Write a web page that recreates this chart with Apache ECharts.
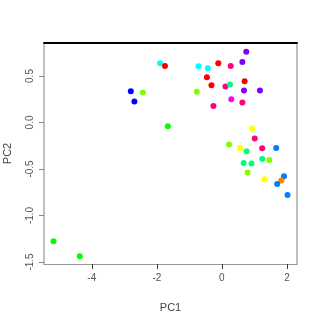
<!DOCTYPE html>
<html>
<head>
<meta charset="utf-8">
<script src="https://cdn.jsdelivr.net/npm/echarts@6/dist/echarts.min.js"></script>
<style>html,body{margin:0;padding:0;background:#fff}#c{width:320px;height:319px}</style>
</head>
<body>
<div id="c"></div>
<script>
var palette = ['#FF0000','#FF8000','#FFFF00','#80FF00','#00FF00','#00FF80','#00FFFF','#0080FF','#0000FF','#8000FF','#FF00FF','#FF0080'];
var pc1 = [-1.90,-1.75,-0.72,-0.43,-0.11,-0.46,-0.32,-2.80,-2.43,-0.77,-2.69,-0.26,-1.66,0.75,0.63,0.27,0.11,0.25,0.70,0.68,1.17,0.29,0.63,0.93,1.01,0.22,0.56,0.76,1.24,1.67,0.67,0.91,1.24,1.46,0.79,1.31,1.91,1.83,1.70,2.02,-5.18,-4.37];
var pc2 = [0.637,0.608,0.604,0.583,0.637,0.486,0.400,0.335,0.322,0.332,0.225,0.177,-0.041,0.762,0.651,0.608,0.386,0.408,0.443,0.343,0.343,0.249,0.214,-0.066,-0.173,-0.238,-0.274,-0.310,-0.277,-0.274,-0.435,-0.442,-0.392,-0.403,-0.539,-0.611,-0.578,-0.625,-0.661,-0.780,-1.277,-1.438];
var group = [6,0,6,6,0,0,0,8,3,3,8,11,4,9,9,11,11,5,0,9,9,10,11,2,11,3,2,5,11,7,5,5,5,3,3,2,7,1,7,7,4,4];
var xTicks = [-4,-2,0,2];
var yTicks = [-1.5,-1.0,-0.5,0.0,0.5];

var data = pc1.map(function(x,i){
  return {value:[x,pc2[i]], itemStyle:{color:palette[group[i]],opacity:1}};
});
var chart = echarts.init(document.getElementById('c'));
var font = 'Liberation Sans, Arial, sans-serif';
chart.setOption({
  animation:false,
  grid:{left:44,top:43,right:23,bottom:55,containLabel:false,outerBoundsMode:'none'},
  xAxis:[{
    type:'value', min:-5.47, max:2.31, position:'bottom',
    name:'PC1', nameLocation:'middle', nameGap:38,
    nameTextStyle:{color:'#444',fontSize:11,fontFamily:font},
    axisLine:{show:true,onZero:false,lineStyle:{color:'#999',width:1}},
    axisTick:{show:true,inside:false,length:5,customValues:xTicks,lineStyle:{color:'#333'}},
    axisLabel:{customValues:xTicks,margin:9,color:'#555',fontSize:10,fontFamily:font,
      formatter:function(v){return String(v);}},
    splitLine:{show:false}
  },{
    type:'value', min:-5.47, max:2.31, position:'top',
    axisLine:{show:true,onZero:false,lineStyle:{color:'#000',width:1.8}},
    axisTick:{show:false}, axisLabel:{show:false}, splitLine:{show:false}
  }],
  yAxis:[{
    type:'value', min:-1.522, max:0.855, position:'left',
    name:'PC2', nameLocation:'middle', nameGap:31,
    nameTextStyle:{color:'#444',fontSize:11,fontFamily:font},
    axisLine:{show:true,onZero:false,lineStyle:{color:'#c0c0c0',width:2}},
    axisTick:{show:true,inside:false,length:5,customValues:yTicks,lineStyle:{color:'#888'}},
    axisLabel:{customValues:yTicks,rotate:90,margin:9,color:'#555',fontSize:10,fontFamily:font,
      formatter:function(v){return v.toFixed(1);}},
    splitLine:{show:false}
  },{
    type:'value', min:-1.522, max:0.855, position:'right',
    axisLine:{show:true,onZero:false,lineStyle:{color:'#c0c0c0',width:2}},
    axisTick:{show:false}, axisLabel:{show:false}, splitLine:{show:false}
  }],
  series:[{
    type:'scatter', xAxisIndex:0, yAxisIndex:0,
    symbol:'circle', symbolSize:6, data:data
  }]
});
</script>
</body>
</html>
